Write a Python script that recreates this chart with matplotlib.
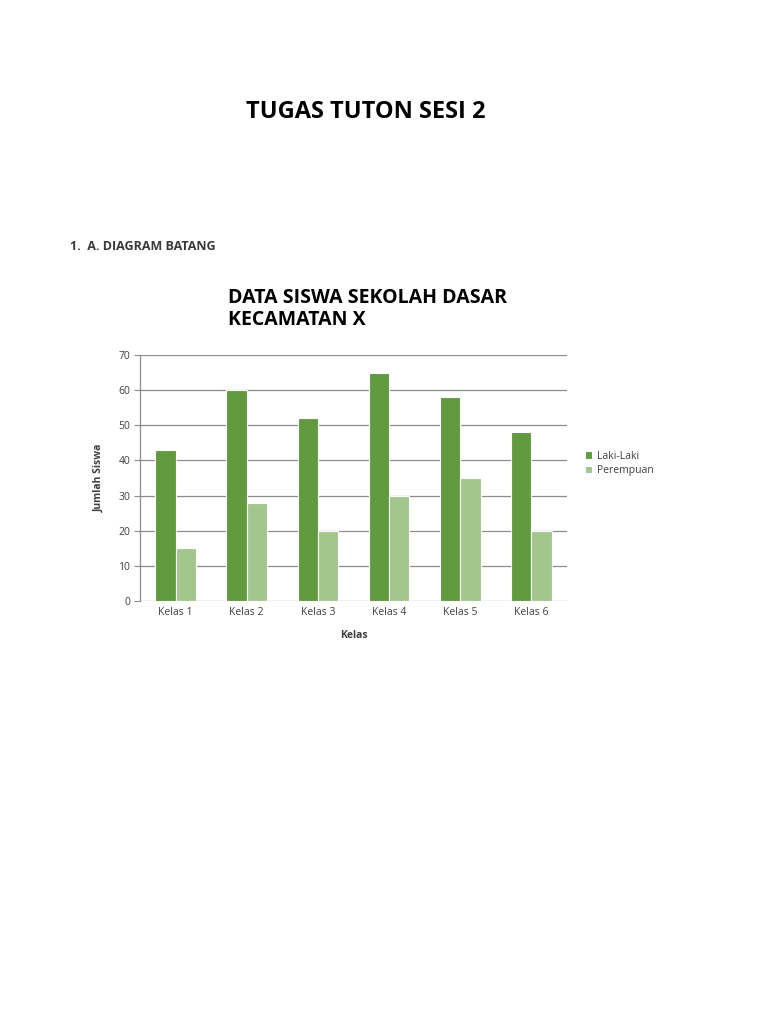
import numpy as np
import matplotlib
matplotlib.use("Agg")
import matplotlib.pyplot as plt

plt.rcParams['font.family'] = ['Open Sans', 'DejaVu Sans']

# data
kelas = ["Kelas 1", "Kelas 2", "Kelas 3", "Kelas 4", "Kelas 5", "Kelas 6"]
laki_laki = [43, 60, 52, 65, 58, 48]
perempuan = [15, 28, 20, 30, 35, 20]

dark_green = "#629a3f"
light_green = "#a3c68f"
grid_grey = "#8c8c8c"
text_grey = "#404040"

fig = plt.figure(figsize=(7.68, 10.24), dpi=100)

# page texts
fig.text(366 / 768, 1 - 112 / 1024, "TUGAS TUTON SESI 2", ha="center", va="center",
         fontsize=17, fontweight="bold", color="black")
fig.text(70 / 768, 1 - 246 / 1024, "1.  A. DIAGRAM BATANG", ha="left", va="center",
         fontsize=9, fontweight="bold", color="#3a3a3a")
fig.text(228 / 768, 1 - 309 / 1024, "DATA SISWA SEKOLAH DASAR\nKECAMATAN X", ha="left",
         va="center", fontsize=14, fontweight="bold", color="black", linespacing=1.1)

ax = fig.add_axes([140 / 768, 1 - 601 / 1024, 427 / 768, 246 / 1024])

x = np.arange(len(kelas))
w = 0.285
ax.bar(x - w / 2, laki_laki, width=w, color=dark_green, edgecolor="white", linewidth=0.8,
       label="Laki-Laki", zorder=3)
ax.bar(x + w / 2, perempuan, width=w, color=light_green, edgecolor="white", linewidth=0.8,
       label="Perempuan", zorder=3)

ax.set_xlim(-0.5, len(kelas) - 0.5)
ax.set_ylim(0, 70)
ax.set_yticks(range(0, 71, 10))
ax.set_xticks(x)
ax.set_xticklabels(kelas)
ax.yaxis.grid(True, color=grid_grey, linewidth=0.9, zorder=0)
ax.set_axisbelow(True)

for s in ["top", "right", "bottom"]:
    ax.spines[s].set_visible(False)
ax.spines["left"].set_color(grid_grey)
ax.spines["left"].set_linewidth(0.9)
ax.tick_params(axis="y", length=4, color=grid_grey, labelsize=7.5, labelcolor=text_grey, pad=3)
ax.tick_params(axis="x", length=0, labelsize=7.5, labelcolor=text_grey, pad=4)

ax.set_ylabel("Jumlah Siswa", fontsize=7.5, fontweight="bold", color=text_grey, labelpad=10)
ax.set_xlabel("Kelas", fontsize=7.5, fontweight="bold", color=text_grey, labelpad=9)

leg = ax.legend(loc="center left", bbox_to_anchor=(1.02, 0.56), frameon=False,
                fontsize=7.5, handlelength=0.7, handleheight=0.7, handletextpad=0.5,
                labelspacing=0.3)
for t in leg.get_texts():
    t.set_color(text_grey)

fig.savefig("out.png", dpi=100)
